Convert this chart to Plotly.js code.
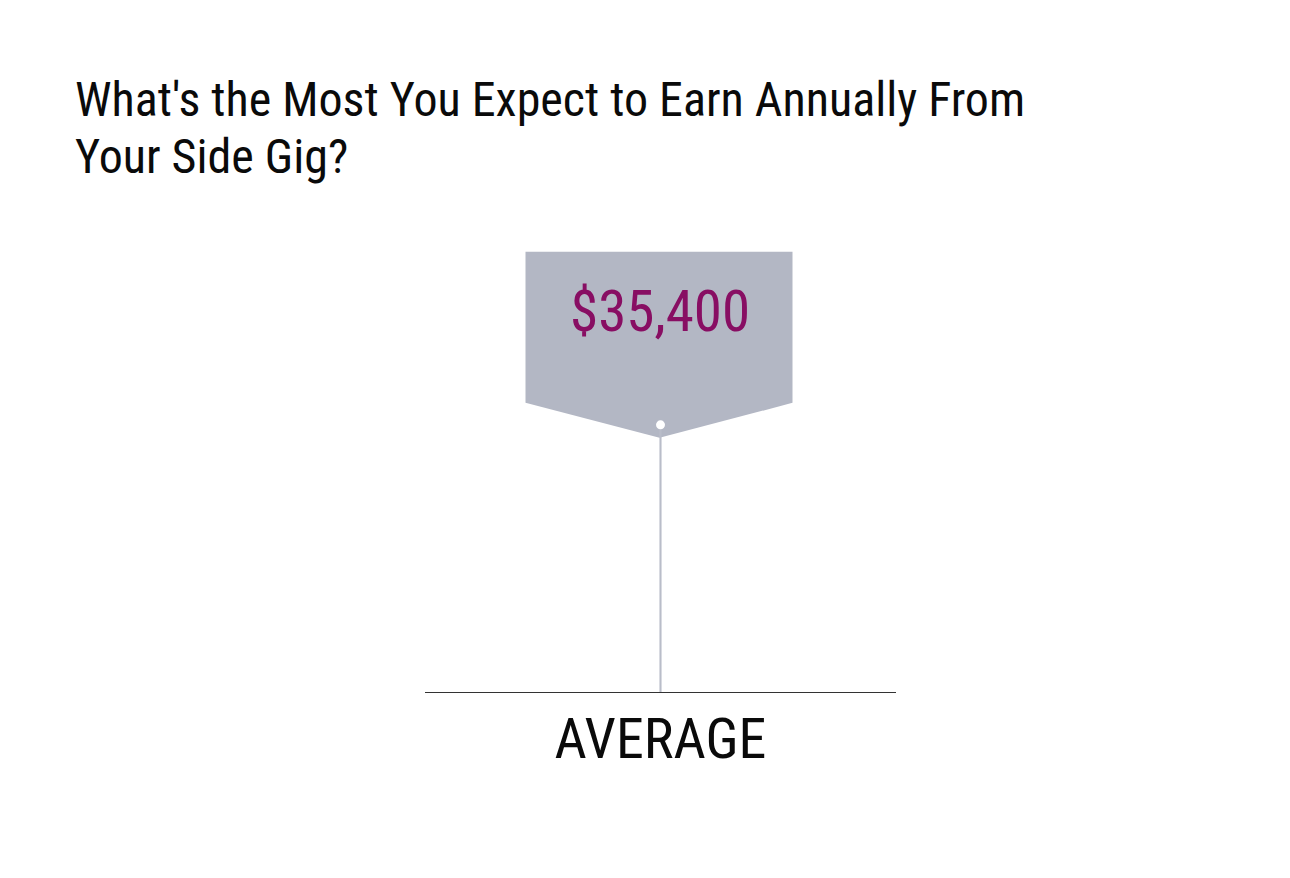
<!DOCTYPE html>
<html>
<head>
<meta charset="utf-8">
<script src="https://cdn.plot.ly/plotly-3.0.1.min.js"></script>
<style>
  html, body { margin: 0; padding: 0; background: #ffffff; }
  #chart { width: 1290px; height: 878px; }
</style>
</head>
<body>
<div id="chart"></div>
<script>
// ---- data ----
const categories = ['AVERAGE'];
const values = [35400];
const valueLabels = ['$35,400'];
const titleLines = ["What's the Most You Expect to Earn Annually From", "Your Side Gig?"];

// ---- style ----
const FONT = '"Roboto Condensed", "Liberation Sans Narrow", "DejaVu Sans Condensed", Roboto, sans-serif';
const BOX = '#b3b7c4';
const STEM = '#b9bdc9';
const LABEL = '#880e63';

// plot area in pixels (used to place the paper-referenced title lines)
const M = { l: 425, r: 394, t: 200, b: 186 };
const PW = 1290 - M.l - M.r, PH = 878 - M.t - M.b;
const px2paperX = px => (px - M.l) / PW;
const px2paperY = py => (878 - M.b - py) / PH;

const traces = [
  {
    type: 'bar',
    x: categories,
    y: values,
    width: 0.0045,
    marker: { color: STEM, line: { width: 0 } },
    hoverinfo: 'skip'
  },
  {
    type: 'scatter',
    mode: 'markers',
    x: categories,
    y: values,
    marker: { color: '#ffffff', size: 9, line: { width: 0 } },
    hoverinfo: 'skip'
  }
];

const shapes = categories.map((c, i) => ({
  type: 'path',
  xref: 'x', yref: 'y',
  xsizemode: 'pixel', ysizemode: 'pixel',
  xanchor: c, yanchor: values[i],
  path: 'M -135 173 L 132 173 L 132 22 L -1 -13 L -135 22 Z',
  fillcolor: BOX,
  line: { width: 0 },
  layer: 'below'
}));

const annotations = categories.map((c, i) => ({
  x: c, y: values[i], xref: 'x', yref: 'y',
  text: valueLabels[i],
  showarrow: false,
  yshift: 113,
  xshift: -1,
  xanchor: 'center', yanchor: 'middle',
  font: { family: FONT, size: 57, color: LABEL }
})).concat(titleLines.map((t, k) => ({
  xref: 'paper', yref: 'paper',
  x: px2paperX(73), y: px2paperY(100 + k * 56),
  xanchor: 'left', yanchor: 'middle',
  text: t, showarrow: false,
  font: { family: FONT, size: 48, color: '#0a0a0a' }
})));

const layout = {
  width: 1290, height: 878,
  paper_bgcolor: '#ffffff', plot_bgcolor: '#ffffff',
  margin: { l: M.l, r: M.r, t: M.t, b: M.b, pad: 0 },
  showlegend: false,
  font: { family: FONT },
  xaxis: {
    type: 'category',
    showline: true, linecolor: '#333333', linewidth: 1,
    showgrid: false, zeroline: false,
    ticks: '', ticklabelstandoff: -2,
    tickfont: { family: FONT, size: 56, color: '#0a0a0a' },
    fixedrange: true
  },
  yaxis: {
    range: [0, 65200],
    visible: false, showgrid: false, zeroline: false,
    fixedrange: true
  },
  shapes: shapes,
  annotations: annotations
};

Plotly.newPlot('chart', traces, layout, { displayModeBar: false, staticPlot: true });
</script>
</body>
</html>
